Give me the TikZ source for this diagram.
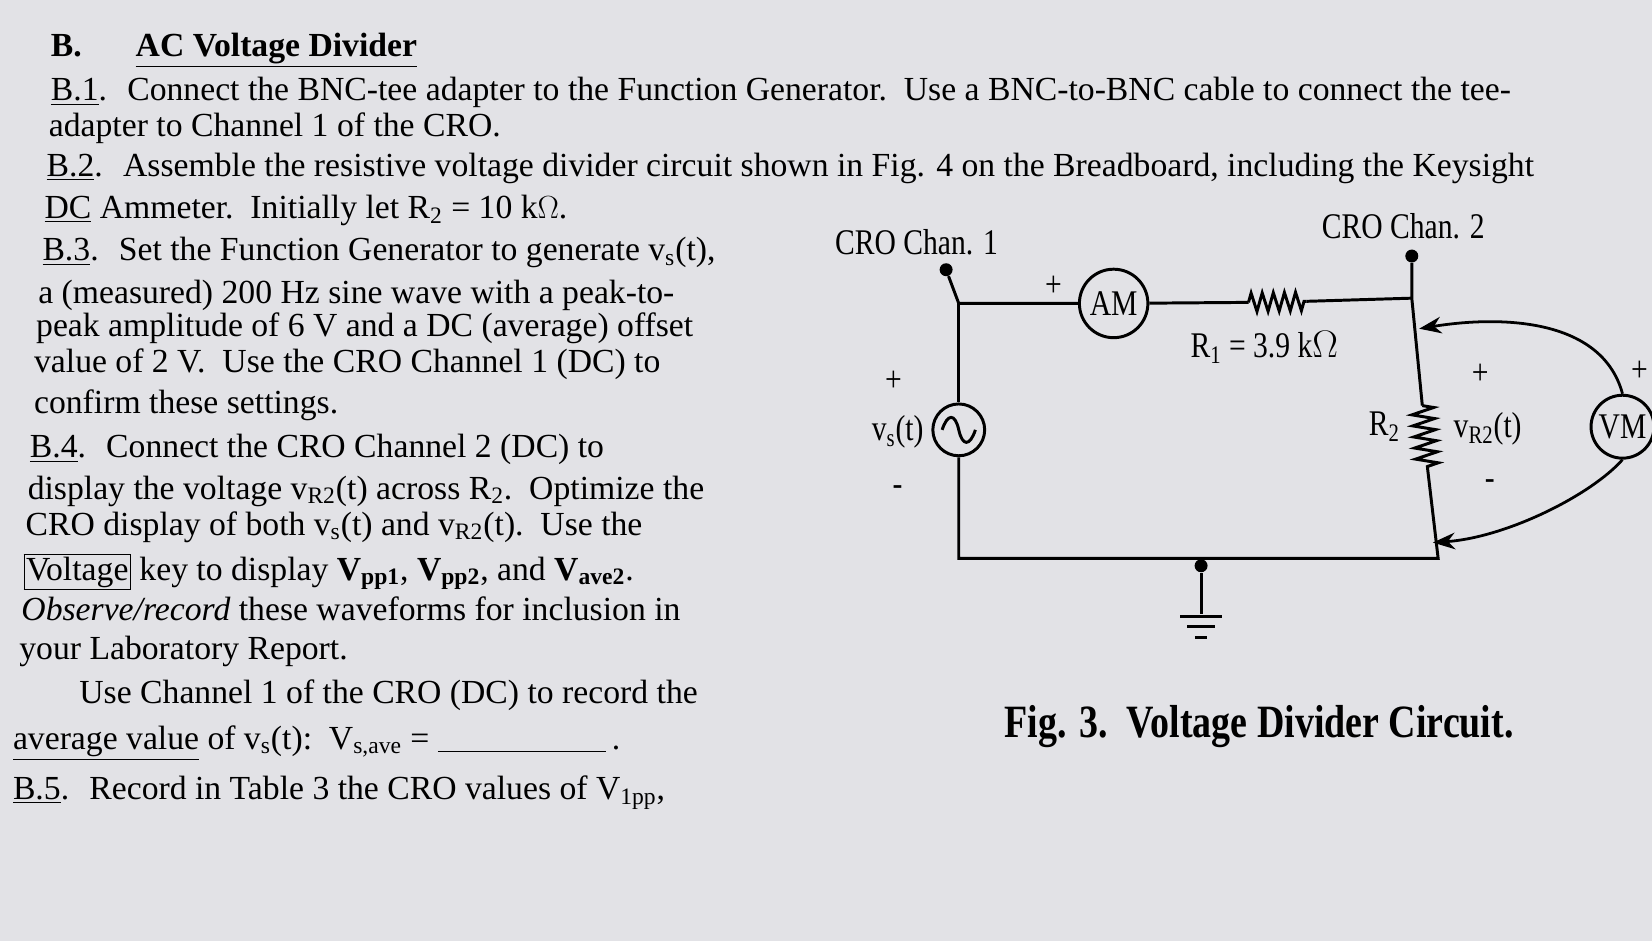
\documentclass[tikz,border=0pt]{standalone}
\usepackage{fontspec}
\setmainfont{Liberation Serif}
\newfontfamily\cond[FakeStretch=0.82]{Liberation Serif}
\usetikzlibrary{decorations.pathmorphing,arrows.meta}
\tikzset{
  txt/.style={anchor=west,inner sep=0pt,font=\fontsize{18.2}{21}\selectfont},
  ctxt/.style={inner sep=0pt,font=\cond\fontsize{19.5}{22}\selectfont},
  wire/.style={line width=1.6pt},
  dotc/.style={circle,fill=black,inner sep=0pt,minimum size=7pt},
  meter/.style={circle,draw,line width=1.6pt,minimum size=37pt,inner sep=0pt,font=\cond\fontsize{19.5}{22}\selectfont},
  zig/.style={line width=1.6pt,decorate,decoration={zigzag,segment length=6pt,amplitude=5pt}}
}
\newcommand{\sbs}[1]{\textsubscript{#1}}
\begin{document}
\begin{tikzpicture}[x=0.02cm,y=-0.02cm]
\fill[color={rgb,255:red,226;green,226;blue,230}] (0,0) rectangle (1568,893);
\useasboundingbox (0,0) rectangle (1568,893);
% text
\node[txt] (t0) at (48,48) {\textbf{B.}\hspace{1.6em}\textbf{\underline{AC Voltage Divider}}};
\node[txt] (t1) at (48,88) {\underline{B.1}.\hspace{0.6em}Connect the BNC-tee adapter to the Function Generator.\ \ Use a BNC-to-BNC cable to connect the tee-};
\node[txt] (t2) at (46,122) {adapter to Channel 1 of the CRO.};
\node[txt] (t3) at (44,160) {\underline{B.2}.\hspace{0.6em}Assemble the resistive voltage divider circuit shown in Fig. 4 on the Breadboard, including the Keysight};
\node[txt] (t4) at (42,200) {\underline{DC} Ammeter.\ \ Initially let R\sbs{2} = 10 k$\Omega$.};
\node[txt] (t5) at (40,240) {\underline{B.3}.\hspace{0.6em}Set the Function Generator to generate v\sbs{s}(t),};
\node[txt] (t6) at (36,280) {a (measured) 200 Hz sine wave with a peak-to-};
\node[txt] (t7) at (34,312) {peak amplitude of 6 V and a DC (average) offset};
\node[txt] (t8) at (32,346) {value of 2 V.\ \ Use the CRO Channel 1 (DC) to};
\node[txt] (t9) at (32,385) {confirm these settings.};
\node[txt] (t10) at (28,427) {\underline{B.4}.\hspace{0.6em}Connect the CRO Channel 2 (DC) to};
\node[txt] (t11) at (26,466) {display the voltage v\sbs{R2}(t) across R\sbs{2}.\ \ Optimize the};
\node[txt] (t12) at (24,500) {CRO display of both v\sbs{s}(t) and v\sbs{R2}(t).\ \ Use the};
\node[txt] (t13) at (22,543) {\fboxsep=1pt\fbox{Voltage} key to display \textbf{V\sbs{pp1}}, \textbf{V\sbs{pp2}}, and \textbf{V\sbs{ave2}}.};
\node[txt] (t14) at (20,578) {\textit{Observe/record} these waveforms for inclusion in};
\node[txt] (t15) at (18,618) {your Laboratory Report.};
\node[txt] (t16) at (75,660) {Use Channel 1 of the CRO (DC) to record the};
\node[txt] (t17) at (12,705) {\underline{average value} of v\sbs{s}(t):\ \ V\sbs{s,ave} = \underline{\hspace{5em}}\,.};
\node[txt] (t18) at (12,752) {\underline{B.5}.\hspace{0.6em}Record in Table 3 the CRO values of V\sbs{1pp},};
% circuit
\node[ctxt] (c1) at (870,230) {CRO Chan. 1};
\node[ctxt] (c2) at (1332,215) {CRO Chan. 2};
\node[dotc] (d1) at (898,256) {};
\node[dotc] (d2) at (1340,243) {};
\coordinate (tl) at (910,288);
\coordinate (tr) at (1340,283);
\coordinate (br) at (1365,530);
\coordinate (bl) at (910,530);
\coordinate (ra) at (1185,287);
\coordinate (rb) at (1240,286);
\coordinate (r2a) at (1350,385);
\coordinate (r2b) at (1355,445);
\node[meter] (am) at (1057,288) {AM};
\node[circle,draw,line width=1.6pt,minimum size=28pt] (vs) at (910,408) {};
\draw[line width=1.6pt] ([xshift=-9pt]vs.center) .. controls ([xshift=-6pt,yshift=9pt]vs.center) and ([xshift=-2pt,yshift=9pt]vs.center) .. (vs.center) .. controls ([xshift=2pt,yshift=-9pt]vs.center) and ([xshift=6pt,yshift=-9pt]vs.center) .. ([xshift=9pt]vs.center);
\draw[wire] (d1) -- (tl) -- (am);
\draw[wire] (am) -- (ra);
\draw[zig] (ra) -- (rb);
\draw[wire] (rb) -- (tr);
\draw[wire] (d2) -- (tr) -- (r2a);
\draw[zig,decoration={amplitude=6pt}] (r2a) -- (r2b);
\draw[wire] (r2b) -- (br) -- (bl) -- (vs);
\draw[wire] (tl) -- (vs);
\coordinate (g) at (1140,537);
\node[dotc] (gd) at (g) {};
\draw[wire] (gd) -- (1140,583);
\draw[wire] (1120,585) -- (1160,585);
\draw[wire] (1127,595) -- (1153,595);
\draw[wire] (1134,605) -- (1146,605);
\node[meter,minimum size=34pt] (vm) at (1540,405) {VM};
\coordinate (p1) at (1347,312);
\coordinate (p2) at (1360,515);
\draw[line width=1.5pt,-{Stealth[length=12pt,width=9pt]}] (vm.north) .. controls (1520,300) and (1420,300) .. (p1);
\draw[line width=1.5pt,-{Stealth[length=12pt,width=9pt]}] (vm.south) .. controls (1510,470) and (1430,510) .. (p2);
\node[ctxt] (l1) at (1000,272) {+};
\node[ctxt] (l2) at (1200,330) {R\sbs{1} = 3.9 k$\Omega$};
\node[ctxt] (l3) at (1405,355) {+};
\node[ctxt] (l4) at (1314,405) {R\sbs{2}};
\node[ctxt] (l5) at (1412,407) {v\sbs{R2}(t)};
\node[ctxt] (l6) at (1414,460) {-};
\node[ctxt] (l7) at (1556,352) {+};
\node[ctxt] (l8) at (848,362) {+};
\node[ctxt] (l9) at (852,410) {v\sbs{s}(t)};
\node[ctxt] (l10) at (852,466) {-};
\node[ctxt,font=\cond\bfseries\fontsize{25}{28}\selectfont] (fig) at (1195,690) {Fig. 3.\ \ Voltage Divider Circuit.};
\end{tikzpicture}
\end{document}
